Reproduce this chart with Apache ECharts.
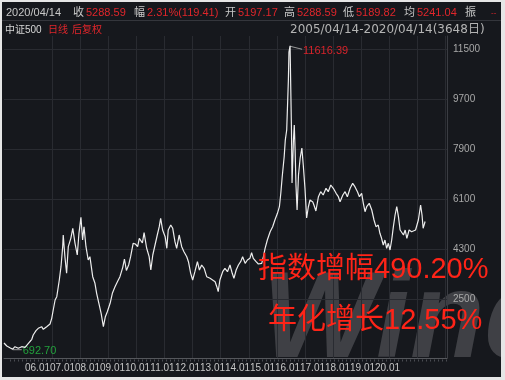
<!DOCTYPE html>
<html><head><meta charset="utf-8">
<script src="https://cdn.jsdelivr.net/npm/echarts@6/dist/echarts.min.js"></script>
<style>html,body{margin:0;padding:0;background:#e6e6e6;}#c{width:505px;height:380px;}</style>
</head><body><div id="c"></div>
<script>
// ---- data ----
const years = [2005.28,2005.38,2005.49,2005.59,2005.67,2005.79,2005.91,2006.03,2006.15,2006.27,2006.32,2006.42,2006.50,2006.62,2006.68,2006.80,2006.92,2006.98,2007.04,2007.10,2007.16,2007.25,2007.31,2007.37,2007.39,2007.45,2007.51,2007.57,2007.66,2007.73,2007.81,2007.89,2007.95,2008.02,2008.08,2008.13,2008.20,2008.28,2008.34,2008.44,2008.52,2008.58,2008.66,2008.74,2008.82,2008.89,2008.96,2009.06,2009.14,2009.23,2009.32,2009.41,2009.51,2009.57,2009.64,2009.72,2009.79,2009.88,2009.96,2010.04,2010.10,2010.15,2010.21,2010.27,2010.36,2010.45,2010.51,2010.58,2010.66,2010.74,2010.81,2010.86,2010.93,2011.02,2011.08,2011.13,2011.22,2011.29,2011.37,2011.43,2011.52,2011.61,2011.69,2011.79,2011.85,2011.93,2012.00,2012.08,2012.17,2012.24,2012.32,2012.41,2012.50,2012.62,2012.71,2012.80,2012.86,2012.91,2012.97,2013.07,2013.15,2013.24,2013.33,2013.41,2013.47,2013.55,2013.63,2013.71,2013.78,2013.87,2013.95,2014.04,2014.10,2014.16,2014.26,2014.34,2014.46,2014.52,2014.58,2014.66,2014.76,2014.85,2014.93,2015.02,2015.09,2015.14,2015.19,2015.26,2015.30,2015.35,2015.39,2015.41,2015.43,2015.47,2015.49,2015.52,2015.54,2015.59,2015.62,2015.65,2015.68,2015.72,2015.77,2015.83,2015.89,2015.94,2016.00,2016.06,2016.12,2016.18,2016.28,2016.32,2016.39,2016.48,2016.56,2016.65,2016.75,2016.83,2016.92,2017.01,2017.11,2017.19,2017.25,2017.35,2017.43,2017.51,2017.61,2017.70,2017.78,2017.87,2017.94,2018.02,2018.08,2018.14,2018.20,2018.29,2018.38,2018.46,2018.53,2018.61,2018.67,2018.73,2018.79,2018.85,2018.91,2018.97,2019.03,2019.09,2019.15,2019.21,2019.27,2019.33,2019.39,2019.45,2019.51,2019.57,2019.63,2019.71,2019.80,2019.86,2019.94,2020.04,2020.12,2020.17,2020.21,2020.28];
const values = [916,808,747,692.7,783,725,783,761,905,1049,1204,1359,1445,1503,1409,1503,1600,1805,2140,2464,2583,3184,3663,4383,4804,4023,3425,4383,4685,5045,4505,4084,4865,5441,4624,5103,4383,3904,4023,3303,3065,2705,2345,1985,1503,1863,2043,2345,2705,2932,3123,3303,3641,3940,3526,3724,4023,4505,4480,4383,4685,4743,4516,4887,4336,4023,3544,4084,4444,4804,5103,5405,4984,4743,4325,4984,5164,5045,4563,4325,4804,4383,4203,4023,3843,3425,3184,3483,3843,3544,3724,3605,3303,3245,3184,3123,2943,2763,3184,3483,3605,3483,3724,3425,3245,3544,3724,3843,4023,3785,3904,3965,4167,3965,3843,3760,3785,4023,4325,4624,4923,5103,5344,5585,5823,6305,6903,7623,8224,8584,9783,10384,11392,11616.39,10384,8584,6676,8224,8764,7864,6604,5704,6964,7576,7936,7324,6496,5416,5812,6064,5992,5884,5668,6183,6363,6244,6485,6363,6604,6485,6305,6183,6003,6244,6363,6183,6485,6665,6543,6363,6183,6305,5945,5643,5823,5945,5704,5344,5103,5164,4865,4685,4444,4624,4325,4505,4264,4624,5103,5524,5823,5463,4984,5045,4804,4984,4685,4984,4923,4865,4984,5344,5884,5524,5045,5288.59];
const yTickValues = [2500, 4300, 6100, 7900, 9700, 11500];
const yearLines = [2007,2008,2009,2010,2011,2012,2013,2014,2015,2016,2017,2018,2019,2020,2021];
const xTickLabels = ['06.01','07.01','08.01','09.01','10.01','11.01','12.01','13.01','14.01','15.01','16.01','17.01','18.01','19.01','20.01'];
const headerDate = '2020/04/14';
const headerLabels = ['收','幅','开','高','低','均','振'];
const headerValues = ['5288.59','2.31%(119.41)','5197.17','5288.59','5189.82','5241.04'];
const indexName = '中证500';
const lineTypeText = ['日线','后复权'];
const rangeText = '2005/04/14-2020/04/14(3648日)';
const noteLines = ['指数增幅490.20%','年化增长12.55%'];

// ---- styling / layout ----
const BG = '#16181d', GRIDC = '#292b31', GREY = '#c8c8c8', RED = '#e0262b';
const LAT = '"Liberation Sans", Arial, "Noto Sans CJK SC", sans-serif';
const labelX = [73,134,225,284,343,404,465];
const valueX = [86,147,238,297,356,417];

function txt(x, y, text, fill, size, family, extra) {
  return Object.assign({type:'text', x:x, y:y, silent:true, z:50,
    style:{text:text, fill:fill, fontSize:size, fontFamily:family||LAT, textVerticalAlign:'middle', textAlign:'left'}}, extra||{});
}
const graphics = [];
// watermark
graphics.push({type:'text', x:262, y:262, z:-1, silent:true,
  style:{text:'Wind', fill:'#3f4045', fontSize:122, fontWeight:'bold', fontStyle:'italic', fontFamily:LAT}});
// header separator + dotted ticks
graphics.push({type:'line', z:5, silent:true, shape:{x1:2,y1:20.5,x2:501,y2:20.5}, style:{stroke:'#34363c', lineWidth:1}});
graphics.push({type:'line', z:5, silent:true, shape:{x1:10,y1:360.5,x2:447,y2:360.5}, style:{stroke:'#4a4c52', lineWidth:2, lineDash:[1,3]}});
graphics.push(txt(6, 13, headerDate, GREY, 11));
headerLabels.forEach((l,i)=>graphics.push(txt(labelX[i], 13, l, GREY, 11)));
headerValues.forEach((v,i)=>graphics.push(txt(valueX[i], 13, v, RED, 11)));
graphics.push(txt(491, 13, '--', RED, 8));
graphics.push(txt(5, 30, indexName, '#d6d6d6', 10));
graphics.push(txt(48, 30, lineTypeText[0], RED, 10));
graphics.push(txt(72, 30, lineTypeText[1], RED, 10));
graphics.push(txt(290, 30, rangeText, '#b4b4b4', 12, '"DejaVu Sans", "Noto Sans CJK SC", sans-serif'));
// big red notes
graphics.push(txt(258, 270, noteLines[0], '#ff2418', 29, null, {z:100}));
graphics.push(txt(268, 320.5, noteLines[1], '#ff2418', 29, null, {z:100}));
// outer light frame
[[0,0,505,2],[0,377,505,3],[0,0,2,380],[501,0,4,380]].forEach(r=>graphics.push(
  {type:'rect', z:200, silent:true, shape:{x:r[0],y:r[1],width:r[2],height:r[3]}, style:{fill:'#e6e6e6'}}));

const chart = echarts.init(document.getElementById('c'), null, {renderer:'canvas'});
chart.setOption({
  animation:false,
  backgroundColor: BG,
  grid:[{left:4, right:58, top:36, bottom:22, outerBoundsMode:'none', containLabel:false},
        {left:25, right:105, top:357, height:1, outerBoundsMode:'none', containLabel:false}],
  xAxis:[{type:'value', gridIndex:0, min:2005.28, max:2021.06,
          axisLine:{show:true, lineStyle:{color:'#55575c', width:1}},
          axisTick:{show:false, customValues:yearLines},
          axisLabel:{show:false, customValues:yearLines},
          splitLine:{show:true, lineStyle:{color:GRIDC, width:1}}},
         {type:'category', gridIndex:1, data:xTickLabels, boundaryGap:true,
          axisLine:{show:false}, axisTick:{show:false}, splitLine:{show:false},
          axisLabel:{interval:0, margin:5, color:'#c6c6c6', fontSize:10, fontFamily:LAT}}],
  yAxis:[{type:'value', gridIndex:0, position:'right', min:376, max:11968,
          axisLine:{show:true, lineStyle:{color:'#3a3c42'}},
          axisTick:{show:false, customValues:yTickValues},
          axisLabel:{show:true, customValues:yTickValues, margin:6, color:'#a8a8a8', fontSize:10, fontFamily:LAT,
                     formatter:v=>String(v)},
          splitLine:{show:true, lineStyle:{color:GRIDC, width:1}}},
         {type:'value', gridIndex:1, show:false, min:0, max:1}],
  graphic: graphics,
  series:[{
    type:'line', xAxisIndex:0, yAxisIndex:0,
    data: years.map((t,i)=>[t, values[i]]),
    symbol:'none', showSymbol:false, z:10,
    lineStyle:{color:'#ededed', width:1.2},
    markPoint:{
      animation:false,
      data:[
        {type:'max', symbol:'path://M0 0L12 3L12 4L0 1Z', symbolSize:[12,4], symbolOffset:[6,2],
         itemStyle:{color:'#9a9a9a'},
         label:{show:true, position:'right', distance:1, offset:[0,3], color:'#d8232a', fontSize:11, fontFamily:LAT,
                formatter:p=>Number(p.value).toFixed(2)}},
        {type:'min', symbol:'path://M0 0H10V1H0Z', symbolSize:[9,1], symbolOffset:[4.5,0.5],
         itemStyle:{color:'#9a9a9a'},
         label:{show:true, position:'right', distance:1, offset:[0,1], color:'#22a03c', fontSize:11, fontFamily:LAT,
                formatter:p=>Number(p.value).toFixed(2)}}
      ]
    }
  }]
});
</script></body></html>
